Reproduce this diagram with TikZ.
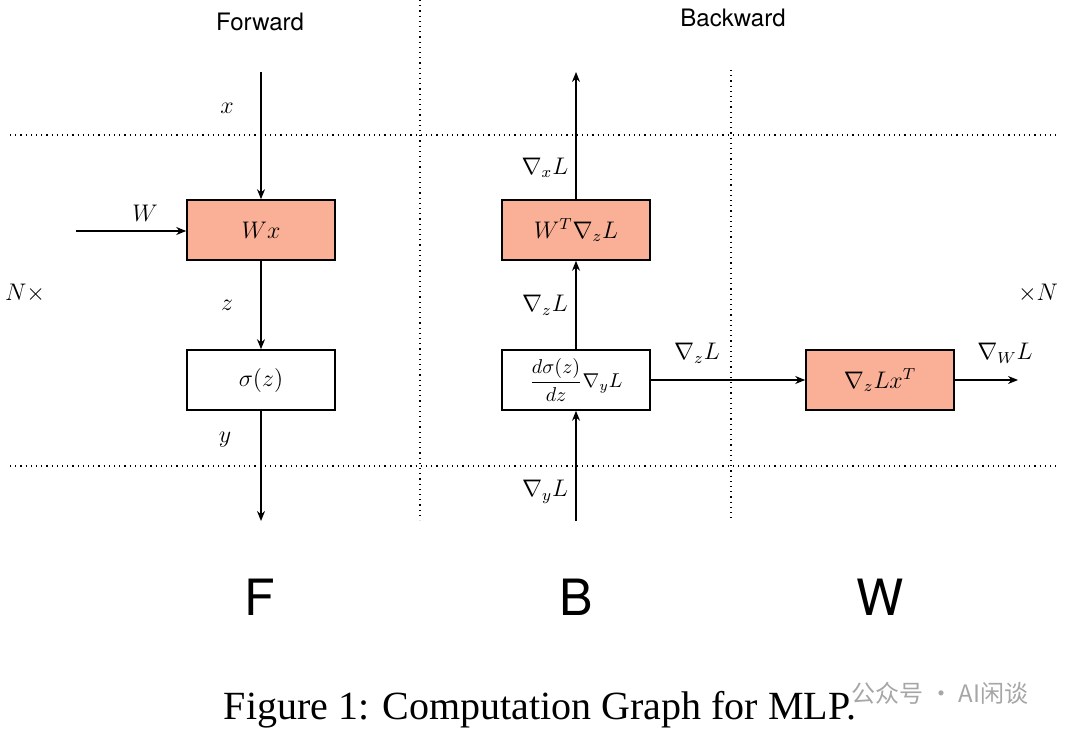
\documentclass[tikz,border=0pt]{standalone}
\usepackage{fontspec}
\setmainfont{Liberation Serif}
\newfontfamily\hv{TeX Gyre Heros}
\newfontfamily\cjk{Noto Sans CJK SC}
\usepackage{amsmath}
\usetikzlibrary{arrows.meta}
\definecolor{salmon}{RGB}{250,176,150}
\begin{document}
\begin{tikzpicture}[x=0.5pt,y=-0.5pt,
 box/.style={draw,line width=0.8pt,minimum width=74pt,minimum height=30pt,inner sep=0pt,font=\large},
 hot/.style={box,fill=salmon},
 arr/.style={-{Stealth[length=5pt,width=4pt]},line width=0.7pt},
 dl/.style={dotted,line width=0.6pt},
 lab/.style={font=\large},
 big/.style={font=\hv\fontsize{25}{28}\selectfont}]
\useasboundingbox (0,0) rectangle (1080,738);
\draw[dl] (420,0) -- (420,520);
\draw[dl] (731,70) -- (731,520);
\draw[dl] (10,135) -- (1060,135);
\draw[dl] (10,466) -- (1060,466);
\node[hot] (wx) at (261,230) {$Wx$};
\node[box] (sig) at (261,380) {$\sigma(z)$};
\node[hot] (wt) at (576,230) {$W^T\nabla_z L$};
\node[box,font=\normalsize] (ds) at (576,380) {$\dfrac{d\sigma(z)}{dz}\nabla_y L$};
\node[hot] (gw) at (880,380) {$\nabla_z L x^T$};
\coordinate (xin) at (261,72);
\coordinate (win) at (76,231);
\coordinate (yout) at (261,521);
\coordinate (gyin) at (576,521);
\coordinate (gxout) at (576,72);
\coordinate (gwout) at (1018,380);
\draw[arr] (xin) -- (wx);
\draw[arr] (win) -- (win -| wx.west);
\draw[arr] (wx) -- (sig);
\draw[arr] (sig) -- (yout);
\draw[arr] (gyin) -- (ds);
\draw[arr] (ds) -- (wt);
\draw[arr] (wt) -- (gxout);
\draw[arr] (ds.east) -- (gw.west);
\draw[arr] (gw.east) -- (gwout);
\node[font=\hv\large] (fw) at (260,22) {Forward};
\node[font=\hv\large] (bw) at (733,18) {Backward};
\node[lab] (lx) at (227,108) {$x$};
\node[lab] (lz) at (227,305) {$z$};
\node[lab] (ly) at (225,440) {$y$};
\node[lab] (lw) at (145,213) {$W$};
\node[lab] (n1) at (25,293) {$N\times$};
\node[lab] (n2) at (1038,293) {$\times N$};
\node[lab] (g1) at (545,168) {$\nabla_x L$};
\node[lab] (g2) at (545,305) {$\nabla_z L$};
\node[lab] (g3) at (545,492) {$\nabla_y L$};
\node[lab] (g4) at (697,353) {$\nabla_z L$};
\node[lab] (g5) at (1005,353) {$\nabla_W L$};
\node[big] (F) at (260,597) {F};
\node[big] (B) at (576,597) {B};
\node[big] (Wb) at (880,597) {W};
\node[font=\fontsize{20}{24}\selectfont] (cap) at (540,710) {Figure 1: Computation Graph for MLP.};
\node[font=\cjk\large,text=black!35] (wm) at (940,693) {公众号 · AI闲谈};
\end{tikzpicture}
\end{document}
